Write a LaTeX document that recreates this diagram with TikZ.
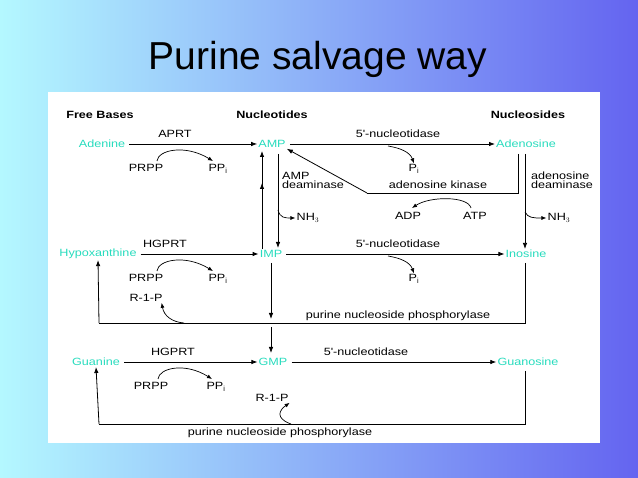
\documentclass[tikz,border=0pt]{standalone}
\usepackage{fontspec}
\setmainfont{Liberation Sans}
\newfontfamily\df[FakeStretch=1.2]{Liberation Sans}
\usetikzlibrary{arrows.meta}
\definecolor{cy}{RGB}{40,220,190}
\definecolor{bgl}{RGB}{180,248,255}
\definecolor{bgr}{RGB}{100,100,240}
\tikzset{
  t/.style={font=\df\fontsize{10.5}{11}\selectfont, inner sep=1pt},
  c/.style={t, text=cy},
  h/.style={font=\df\fontsize{10.5}{11}\selectfont\bfseries, inner sep=1pt},
  ar/.style={line width=0.8pt, -{Latex[length=6pt,width=4.5pt]}},
  ln/.style={line width=0.8pt},
  sa/.style={line width=0.7pt, -{Latex[length=5pt,width=4pt]}},
}
\begin{document}
\begin{tikzpicture}[x=1pt,y=-1pt]
\shade[left color=bgl,right color=bgr] (0,0) rectangle (638,478);
\useasboundingbox (0,0) rectangle (638,478);
\fill[white] (48,92) rectangle (600,443);
\node[font=\fontsize{39}{41}\selectfont] (title) at (318,59) {Purine salvage way};
% headers
\node[h] (fb) at (100,115) {Free Bases};
\node[h] (nt) at (272,115) {Nucleotides};
\node[h] (ns) at (528,115) {Nucleosides};
% main nodes
\node[c] (ade) at (102,144) {Adenine};
\node[c] (amp) at (272,144) {AMP};
\node[c] (ados) at (526,144) {Adenosine};
\node[c] (hyp) at (98,254) {Hypoxanthine};
\node[c] (imp) at (271,254) {IMP};
\node[c] (ino) at (526,254) {Inosine};
\node[c] (gua) at (96,362) {Guanine};
\node[c] (gmp) at (273,362) {GMP};
\node[c] (guo) at (528,362) {Guanosine};
% labels
\node[t] (aprt) at (175,134) {APRT};
\node[t] (prpp1) at (146,168) {PRPP};
\node[t] (ppi1) at (218,169) {PP$_\mathrm{i}$};
\node[t] (nuc1) at (398,134) {5'-nucleotidase};
\node[t] (pi1) at (414,169) {P$_\mathrm{i}$};
\node[t,align=left,anchor=west] (ampd) at (281,180) {AMP\\[-2pt]deaminase};
\node[t] (nh1) at (308,218) {NH$_3$};
\node[t] (adk) at (438,185) {adenosine kinase};
\node[t] (adp) at (408,216) {ADP};
\node[t] (atp) at (475,216) {ATP};
\node[t,align=left,anchor=west] (add) at (530,180) {adenosine\\[-2pt]deaminase};
\node[t] (nh2) at (559,218) {NH$_3$};
\node[t] (hg1) at (165,244) {HGPRT};
\node[t] (prpp2) at (146,278) {PRPP};
\node[t] (ppi2) at (218,279) {PP$_\mathrm{i}$};
\node[t] (nuc2) at (398,244) {5'-nucleotidase};
\node[t] (pi2) at (414,279) {P$_\mathrm{i}$};
\node[t] (r1p1) at (146,298) {R-1-P};
\node[t] (pnp1) at (398,316) {purine nucleoside phosphorylase};
\node[t] (hg2) at (173,352) {HGPRT};
\node[t] (prpp3) at (151,386) {PRPP};
\node[t] (ppi3) at (216,387) {PP$_\mathrm{i}$};
\node[t] (nuc3) at (366,352) {5'-nucleotidase};
\node[t] (r1p2) at (272,398) {R-1-P};
\node[t] (pnp2) at (280,433) {purine nucleoside phosphorylase};
% corner coordinates
\coordinate (k0) at (518,154);
\coordinate (k2) at (367,193);
\coordinate (l1) at (525,323);
\coordinate (l2) at (99,323);
\coordinate (m1) at (525,424);
\coordinate (m2) at (99,424);
% row 1
\draw[ar] (ade.east)++(3,0) -- (amp.west);
\draw[sa] (157,161) .. controls (158,150) and (185,144) .. (213,161);
\draw[ar] (amp.east)++(3,0) -- (ados.west);
\draw[sa] (388,146) .. controls (400,148) and (410,152) .. (pi1.north);
\draw[ln] (k0) |- (k2);
\draw[ar] (k2) -- (amp.south east);
\draw[sa] (471,208) .. controls (468,196) and (430,196) .. (412,208);
\draw[ar] (525,154) -- ([xshift=-1pt]ino.north);
\draw[sa] (525,212) .. controls (528,218) and (533,218) .. (nh2.west);
\draw[ar] (278,154) -- (278,248);
\draw[sa] (278,210) .. controls (280,218) and (285,218) .. (nh1.west);
\draw[ar] (262,249) -- (262,183);
\draw[ar] (262,200) -- (262,151);
% row 2
\draw[ar] (hyp.east)++(3,0) -- (imp.west);
\draw[sa] (157,271) .. controls (158,260) and (185,254) .. (213,271);
\draw[ar] (imp.east)++(3,0) -- (ino.west);
\draw[sa] (388,256) .. controls (400,258) and (410,262) .. (pi2.north);
\draw[ln] (525,263) |- (l1) -- (l2);
\draw[ar] (l2) -- (hyp.south);
\draw[sa] (184,323) .. controls (172,322) and (164,316) .. ([xshift=-2pt]r1p1.south east);
% IMP to GMP
\draw[ar] (271,263) -- (271,319);
\draw[ar] (271,327) -- (271,353);
% row 3
\draw[ar] (gua.east)++(3,0) -- (gmp.west);
\draw[sa] (158,379) .. controls (159,368) and (185,362) .. (212,379);
\draw[ar] (gmp.east)++(3,0) -- (guo.west);
\draw[ln] (525,371) |- (m1) -- (m2);
\draw[ar] (m2) -- (gua.south);
\draw[sa] (291,424) .. controls (282,421) and (274,414) .. (r1p2.south east);
\end{tikzpicture}
\end{document}
